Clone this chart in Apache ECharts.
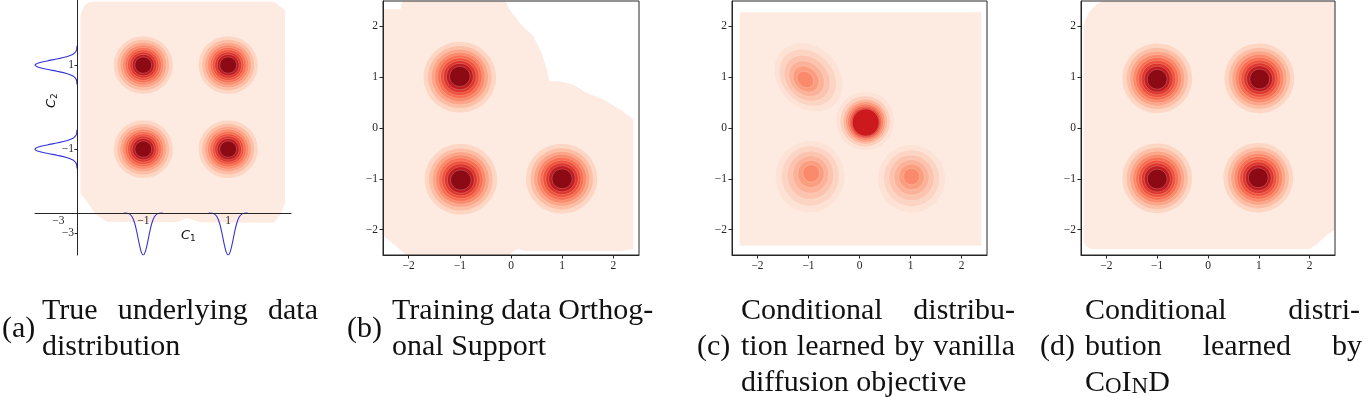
<!DOCTYPE html>
<html><head><meta charset="utf-8">
<script src="https://cdn.jsdelivr.net/npm/echarts@6.0.0/dist/echarts.min.js"></script>
<style>html,body{margin:0;padding:0;background:#fff}#c{width:1365px;height:397px}</style>
</head><body><div id="c"></div>
<script>
// ================= DATA =================
// tick values
const ticksA = [-3, -1, 1];
const ticksBCD = [-2, -1, 0, 1, 2];

// Blobs: [cx, cy, outer contour radius x, outer contour radius y, tilt (deg), inner-mode shift dx, dy]
const blobsA = [[-1, 1, 0.70, 0.69, 0, 0, 0], [1, 1, 0.70, 0.69, 0, 0, 0],
                [-1, -1, 0.70, 0.69, 0, 0, 0], [1, -1, 0.70, 0.69, 0, 0, 0]];
const blobsB = [[-1.0, 1.0, 0.71, 0.70, 0, 0.0, 0.02], [-0.98, -1.01, 0.71, 0.70, 0, 0, -0.02],
                [0.99, -1.0, 0.70, 0.69, 0, 0.01, 0]];
const blobsC = [[-1.0, 1.0, 0.74, 0.60, -45, -0.08, -0.06], [-0.97, -0.96, 0.68, 0.71, -10, 0.03, 0.09],
                [1.02, -1.0, 0.66, 0.67, 20, 0.0, 0.06], [0.11, 0.14, 0.57, 0.58, 0, 0.02, -0.06]];
const blobSetC = [1, 1, 1, 2];
const blobsD = [[-1.0, 0.98, 0.69, 0.69, 0, 0, -0.03], [1.01, 0.98, 0.69, 0.69, 0, 0.01, -0.02],
                [-1.0, -0.99, 0.69, 0.69, 0, 0, -0.02], [0.99, -0.98, 0.69, 0.69, 0, 0, 0]];

// Contour levels: radius of each filled contour as a fraction of the outermost one
const levelsStd  = [1.0, 0.88, 0.78, 0.69, 0.61, 0.53, 0.45, 0.37, 0.28];
const levelsPale = [1.0, 0.83, 0.67, 0.52, 0.38, 0.24];
const levelsCore = [1.0, 0.86, 0.76, 0.68, 0.61, 0.55, 0.50, 0.46];

// Outline of the lowest density band (support), in data units
const supportA = [[-2.48, 2.15], [-2.44, 2.32], [-2.36, 2.44], [-2.25, 2.51], [2.07, 2.51], [2.2, 2.42], [2.34, 2.3],
                  [2.34, -2.29], [2.22, -2.57], [2.07, -2.75], [0.34, -2.74], [0.03, -2.64],
                  [-0.21, -2.74], [-1.85, -2.73], [-2.13, -2.55], [-2.32, -2.25], [-2.48, -2.05]];
const supportB = [[-2.6, 2.34], [-2.16, 2.34], [-2.1, 2.6], [-0.15, 2.6], [-0.02, 2.32], [0.18, 2.06],
                  [0.44, 1.80], [0.60, 1.47], [0.70, 1.15], [0.75, 0.92], [0.96, 0.92], [1.22, 0.85],
                  [1.48, 0.69], [1.81, 0.56], [2.14, 0.36], [2.39, 0.17], [2.39, -2.38], [2.14, -2.42],
                  [0.27, -2.42], [0.14, -2.38], [0.02, -2.44], [-0.1, -2.6], [-1.92, -2.6], [-2.6, -2.03]];
const supportC = [[-2.35, 2.28], [2.39, 2.28], [2.39, -2.32], [-2.35, -2.32]];
const supportD = [[-2.45, 1.96], [-2.42, 2.12], [-2.34, 2.28], [-2.2, 2.42], [-1.95, 2.6], [2.6, 2.6], [2.6, -1.93],
                  [2.35, -2.1], [2.15, -2.28], [2.0, -2.38], [-2.3, -2.38], [-2.42, -2.32], [-2.45, -2.2]];

// Marginal densities of panel (a): positions and relative heights ('-' = gap)
const margPos = [-1.46, -1.38, -1.32, -1.26, -1.2, -1.15, -1.1, -1.05, -1.0, -0.95, -0.9, -0.85, -0.8, -0.74, -0.68, -0.62, -0.54, '-',
                 0.54, 0.62, 0.68, 0.74, 0.8, 0.85, 0.9, 0.95, 1.0, 1.05, 1.1, 1.15, 1.2, 1.26, 1.32, 1.38, 1.46];
const margC1 = [0, 0.006, 0.028, 0.095, 0.25, 0.46, 0.71, 0.92, 1.0, 0.92, 0.71, 0.46, 0.25, 0.095, 0.028, 0.006, 0, '-',
                0, 0.006, 0.028, 0.095, 0.25, 0.46, 0.71, 0.92, 1.0, 0.92, 0.71, 0.46, 0.25, 0.095, 0.028, 0.006, 0];
const margC2 = [0, 0.006, 0.028, 0.095, 0.25, 0.46, 0.71, 0.92, 1.0, 0.92, 0.71, 0.46, 0.25, 0.095, 0.028, 0.006, 0, '-',
                0, 0.006, 0.028, 0.095, 0.25, 0.46, 0.71, 0.92, 1.0, 0.92, 0.71, 0.46, 0.25, 0.095, 0.028, 0.006, 0];

// Captions
const capA = [['True', 'underlying', 'data'], ['distribution']];
const capB = [['Training', 'data', 'Orthog-'], ['onal', 'Support']];
const capC = [['Conditional', 'distribu-'], ['tion', 'learned', 'by', 'vanilla'], ['diffusion', 'objective']];
const capD = [['Conditional', 'distri-'], ['bution', 'learned', 'by']];

// ================= STYLE =================
const palette = ['#fdebe2', '#fdd6c4', '#fcbfa5', '#fca588', '#fb8a6b', '#f86e51', '#ee523c', '#dc352b', '#bf1b21', '#8b0a14'];
const paleColors = ['#fde2d6', '#fcd4c3', '#fcc4ae', '#fcb298', '#fb9e80', '#fa8a6b'];
const coreColors = ['#fde3d7', '#fcd0bd', '#fcb89e', '#fb9a7c', '#f87b5e', '#ef5a43', '#df3a2e', '#cb191e'];
const ringSets = [
  {levels: levelsStd, colors: palette.slice(1)},
  {levels: levelsPale, colors: paleColors},
  {levels: levelsCore, colors: coreColors}
];
const AX = '#262626';
const SERIF = '"Liberation Serif", "Times New Roman", serif';
const minus = v => (v < 0 ? '\u2212' + Math.abs(v) : String(v));

// ================= BUILD =================
const chart = echarts.init(document.getElementById('c'), null, {renderer: 'canvas'});

const grids = [
  {left: 35, top: 0, width: 256, height: 255},
  {left: 383, top: 1, width: 256, height: 254, show: true},
  {left: 732, top: 1, width: 255, height: 254, show: true},
  {left: 1081, top: 1, width: 254, height: 254, show: true}
].map(g => Object.assign({outerBoundsMode: 'none', containLabel: false, borderColor: AX, borderWidth: 1, z: 10}, g));

function axisCommon(gi, ticks, min, max) {
  return {
    gridIndex: gi, type: 'value', min: min, max: max, z: 10,
    axisLine: {show: true, onZero: false, lineStyle: {color: AX, width: 1}},
    axisTick: {show: true, length: 3.5, customValues: ticks, lineStyle: {color: AX, width: 1}},
    axisLabel: {customValues: ticks, formatter: minus, fontFamily: SERIF, fontSize: 11.5, color: AX, margin: 5},
    splitLine: {show: false}
  };
}
const xAxes = [], yAxes = [];
// panel (a): free-standing axes crossing at the lower-left of the support
const xa = axisCommon(0, ticksA, -3.55, 2.48); xa.position = 'bottom'; xa.offset = -42;
xa.axisTick = {show: false}; xa.axisLabel.margin = 2;
const ya = axisCommon(0, ticksA, -3.52, 2.55); ya.position = 'left'; ya.offset = -42;
ya.axisTick.length = 2.5; ya.axisLabel.margin = 3;
xAxes.push(xa); yAxes.push(ya);
for (let g = 1; g <= 3; g++) {
  const x = axisCommon(g, ticksBCD, -2.5, 2.5); x.position = 'bottom';
  const y = axisCommon(g, ticksBCD, -2.5, 2.5); y.position = 'left';
  xAxes.push(x); yAxes.push(y);
}

function supportSeries(gi, outline) {
  return {
    type: 'custom', xAxisIndex: gi, yAxisIndex: gi, clip: gi > 0, z: 2, silent: true,
    data: [[0, 0]],
    renderItem: (params, api) => ({
      type: 'polygon',
      shape: {points: outline.map(p => api.coord(p))},
      style: {fill: palette[0]}
    })
  };
}
function blobSeries(gi, blobs, sets) {
  return {
    type: 'custom', xAxisIndex: gi, yAxisIndex: gi, clip: gi > 0, z: 3, silent: true,
    data: blobs.map(b => [b[0], b[1]]),
    renderItem: (params, api) => {
      const b = blobs[params.dataIndex];
      const set = ringSets[sets ? sets[params.dataIndex] : 0];
      const o = api.coord([0, 0]);
      const sx = api.coord([1, 0])[0] - o[0];
      const sy = o[1] - api.coord([0, 1])[1];
      const children = set.levels.map((f, k) => {
        const c = api.coord([b[0] + (1 - f) * b[5], b[1] + (1 - f) * b[6]]);
        return {
          type: 'ellipse', x: c[0], y: c[1], rotation: b[4] * Math.PI / 180,
          shape: {cx: 0, cy: 0, rx: b[2] * f * sx, ry: b[3] * f * sy},
          style: {fill: set.colors[k], stroke: 'rgba(255,240,235,0.35)', lineWidth: 0.6}
        };
      });
      return {type: 'group', children: children};
    }
  };
}

// marginal curves for panel (a): baseline = the crossing axes
const baseX = -3.55 + 42 / 42.5, baseY = -3.52 + 42 / 42;
const depthX = 42 / 42.5, depthY = 42 / 42;
const margBottom = margPos.map((p, i) => p === '-' ? '-' : [p, baseY - margC1[i] * depthY]);
const margLeft = margPos.map((p, i) => p === '-' ? '-' : [baseX - margC2[i] * depthX, p]);
const lineStyleM = {color: '#3434d8', width: 1.1};

const series = [
  supportSeries(0, supportA), blobSeries(0, blobsA),
  supportSeries(1, supportB), blobSeries(1, blobsB),
  supportSeries(2, supportC), blobSeries(2, blobsC, blobSetC),
  supportSeries(3, supportD), blobSeries(3, blobsD),
  {type: 'line', xAxisIndex: 0, yAxisIndex: 0, data: margBottom, showSymbol: false, symbol: 'none',
   smooth: 0.3, lineStyle: lineStyleM, z: 5, silent: true, connectNulls: false},
  {type: 'line', xAxisIndex: 0, yAxisIndex: 0, data: margLeft, showSymbol: false, symbol: 'none',
   smooth: 0.3, lineStyle: lineStyleM, z: 5, silent: true, connectNulls: false}
];

// ---------- captions (justified like the paper) ----------
const CAP = 30;
const capFont = CAP + 'px "Liberation Serif"';
const ctx = document.createElement('canvas').getContext('2d');
ctx.font = capFont;
function txt(t, x, y, align) {
  return {type: 'text', x: x, y: y, silent: true,
    style: {text: t, font: capFont, fill: '#111', textAlign: align || 'left', textVerticalAlign: 'middle'}};
}
function capLine(words, x0, x1, y, justify) {
  if (!justify || words.length === 1) return [txt(words.join(' '), x0, y)];
  const ws = words.map(w => ctx.measureText(w).width);
  const total = ws.reduce((a, b) => a + b, 0);
  const gap = Math.max(7, (x1 - x0 - total) / (words.length - 1));
  const out = []; let x = x0;
  words.forEach((w, i) => { out.push(txt(w, x, y)); x += ws[i] + gap; });
  return out;
}
const L1 = 311, L2 = 347, L3 = 383;
const smallCaps = {
  b: {fontFamily: 'Liberation Serif', fontSize: CAP, fill: '#111', verticalAlign: 'bottom'},
  s: {fontFamily: 'Liberation Serif', fontSize: Math.round(CAP * 0.76), fill: '#111', verticalAlign: 'bottom'}
};
const mathName = {
  i: {fontFamily: '"DejaVu Sans"', fontStyle: 'italic', fontSize: 13, fill: '#111'},
  s: {fontFamily: '"DejaVu Sans"', fontSize: 9, fill: '#111', padding: [6, 0, 0, 0]}
};
const graphics = [].concat(
  [txt('(a)', 2, 329)],
  capLine(capA[0], 42, 318, L1, true), capLine(capA[1], 42, 318, L2, false),
  [txt('(b)', 347, 329)],
  capLine(capB[0], 392, 648, L1, true), capLine(capB[1], 392, 648, L2, false),
  [txt('(c)', 697, L2)],
  capLine(capC[0], 741, 1015, L1, true), capLine(capC[1], 741, 1015, L2, true), capLine(capC[2], 741, 1015, L3, false),
  [txt('(d)', 1040, L2)],
  capLine(capD[0], 1085, 1360, L1, true), capLine(capD[1], 1085, 1362, L2, true),
  [{type: 'text', x: 1085, y: L3, silent: true,
    style: {text: '{b|C}{s|O}{b|I}{s|N}{b|D}', textVerticalAlign: 'middle', fill: '#111', rich: smallCaps}}],
  // axis names of panel (a)
  [{type: 'text', x: 181, y: 236, silent: true,
    style: {text: '{i|C}{s|1}', textVerticalAlign: 'middle', fill: '#111', rich: mathName}},
   {type: 'text', x: 52, y: 108, rotation: Math.PI / 2, silent: true,
    style: {text: '{i|C}{s|2}', textVerticalAlign: 'middle', fill: '#111', rich: mathName}}]
);

chart.setOption({
  animation: false,
  backgroundColor: '#fff',
  grid: grids,
  xAxis: xAxes,
  yAxis: yAxes,
  series: series,
  graphic: {elements: graphics}
});
</script>
</body></html>
